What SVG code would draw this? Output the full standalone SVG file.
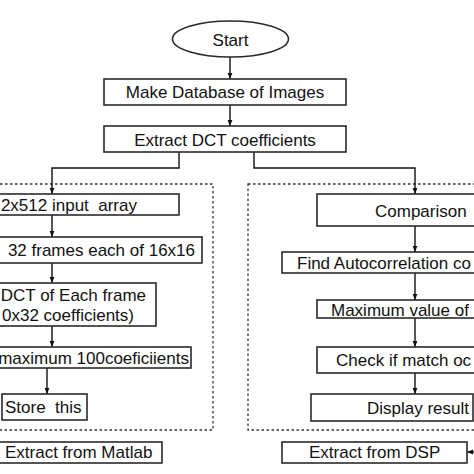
<svg xmlns="http://www.w3.org/2000/svg" width="474" height="474" viewBox="0 0 474 474">
<defs>
<marker id="ah" viewBox="0 0 10 10" refX="10" refY="5" markerWidth="6" markerHeight="6" orient="auto" markerUnits="userSpaceOnUse">
<path d="M0,1 L10,5 L0,9 z" fill="#111"/>
</marker>
<style>
.b{fill:#fff;stroke:#2a2a2a;stroke-width:1.6}
.d{fill:none;stroke:#333;stroke-width:1.3;stroke-dasharray:2.5 2.5}
.c{fill:none;stroke:#111;stroke-width:1.4}
.a{fill:none;stroke:#111;stroke-width:1.4;marker-end:url(#ah)}
text{font-family:"Liberation Sans",Arial,sans-serif;font-size:17px;fill:#111;white-space:pre}
.m{text-anchor:middle}
.e{text-anchor:end}
</style>
</defs>
<rect width="474" height="474" fill="#fff"/>
<g id="groups">
<rect class="d" x="-10" y="184" width="223" height="246"/>
<rect class="d" x="248" y="184" width="240" height="246"/>
</g>
<g id="connectors">
<line class="a" x1="230" y1="57" x2="230" y2="79"/>
<line class="a" x1="230" y1="105" x2="230" y2="126"/>
<polyline class="a" points="179,152 179,168 52,168 52,194"/>
<polyline class="a" points="254,152 254,168 415,168 415,194"/>
<line class="a" x1="52" y1="215" x2="52" y2="237"/>
<line class="a" x1="52" y1="263" x2="52" y2="283"/>
<line class="a" x1="52" y1="326" x2="52" y2="347"/>
<line class="a" x1="47" y1="368" x2="47" y2="394"/>
<line class="a" x1="415" y1="226" x2="415" y2="252"/>
<line class="a" x1="415" y1="273" x2="415" y2="300"/>
<line class="a" x1="415" y1="318" x2="415" y2="347"/>
<line class="a" x1="415" y1="373" x2="415" y2="394"/>
<line class="a" x1="476" y1="452" x2="467" y2="452"/>
</g>
<g id="start">
<ellipse class="b" cx="230.5" cy="39" rx="58" ry="18"/>
<text class="m" x="230.5" y="46">Start</text>
</g>
<g id="makedb">
<rect class="b" x="104" y="79" width="242" height="26"/>
<text class="m" x="225" y="98">Make Database of Images</text>
</g>
<g id="extractdct">
<rect class="b" x="104" y="126" width="242" height="26"/>
<text class="m" x="225" y="146">Extract DCT coefficients</text>
</g>
<g id="input">
<rect class="b" x="-10" y="194" width="189" height="21"/>
<text class="e" x="137" y="211">2x512 input  array</text>
</g>
<g id="frames">
<rect class="b" x="-10" y="237" width="212" height="26"/>
<text class="e" x="195" y="256">32 frames each of 16x16</text>
</g>
<g id="dct">
<rect class="b" x="-10" y="283" width="166" height="43"/>
<text class="e" x="146" y="301">DCT of Each frame</text>
<text class="e" x="134" y="321">0x32 coefficients)</text>
</g>
<g id="max100">
<rect class="b" x="-10" y="347" width="201" height="21"/>
<text class="e" x="189" y="364" font-size="16.2">maximum 100coeficiients</text>
</g>
<g id="store">
<rect class="b" x="2" y="394" width="85" height="26"/>
<text x="5" y="413">Store  this</text>
</g>
<g id="matlab">
<rect class="b" x="-10" y="442" width="172" height="21"/>
<text x="5" y="458">Extract from Matlab</text>
</g>
<g id="comparison">
<rect class="b" x="317" y="194" width="170" height="32"/>
<text x="375" y="217">Comparison</text>
</g>
<g id="autocorr">
<rect class="b" x="282" y="252" width="205" height="21"/>
<text x="297" y="269">Find Autocorrelation co</text>
</g>
<g id="maxval">
<rect class="b" x="317" y="300" width="170" height="18"/>
<text x="331" y="316">Maximum value of</text>
</g>
<g id="check">
<rect class="b" x="317" y="347" width="170" height="26"/>
<text x="336" y="366">Check if match oc</text>
</g>
<g id="display">
<rect class="b" x="311" y="394" width="162" height="27"/>
<text x="367" y="414">Display result</text>
</g>
<g id="dsp">
<rect class="b" x="282" y="442" width="185" height="21"/>
<text x="309" y="458">Extract from DSP</text>
</g>
</svg>
